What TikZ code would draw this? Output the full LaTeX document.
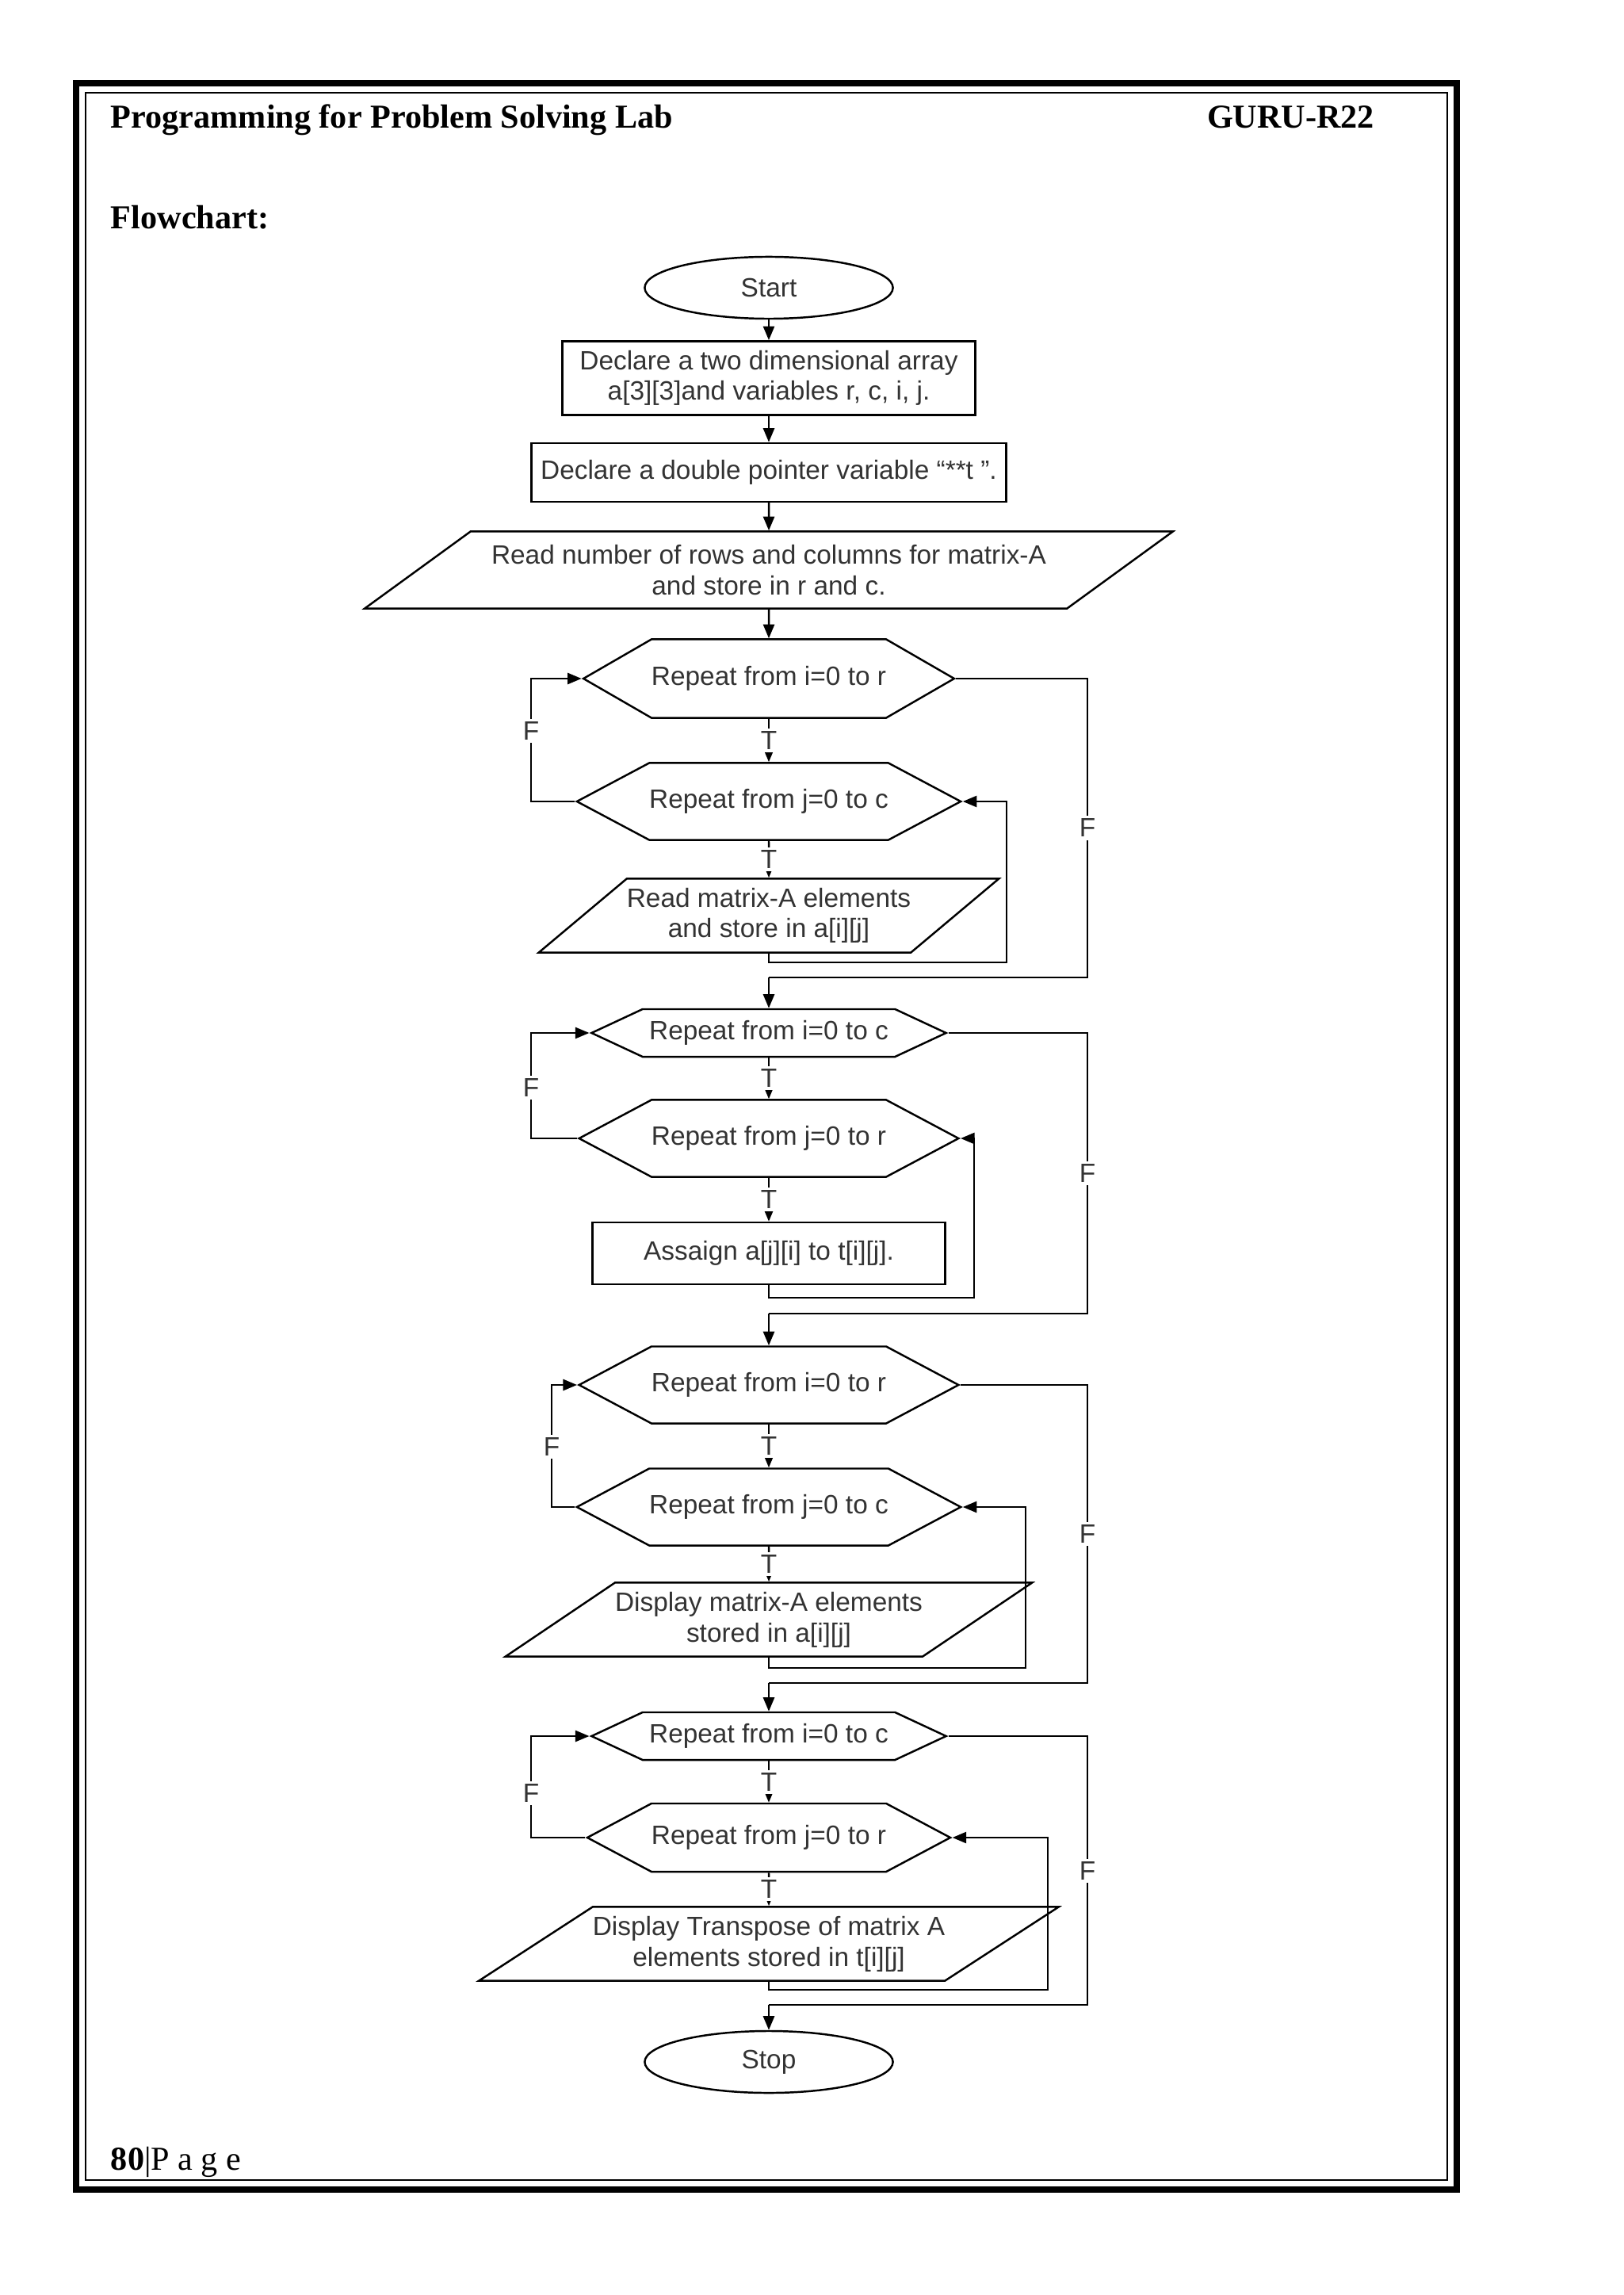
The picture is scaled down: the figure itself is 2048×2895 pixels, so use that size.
\documentclass[tikz,border=0pt]{standalone}
\usepackage{fontspec}
\setmainfont{Liberation Serif}
\newfontfamily\chartfont{Liberation Sans}
\usepackage{tikz}
\usetikzlibrary{shapes,arrows.meta,positioning}
\tikzset{
  term/.style={ellipse,draw,minimum width=3.13cm,minimum height=0.78cm},
  proc/.style={rectangle,draw,align=center,minimum height=0.74cm},
  io/.style={trapezium,draw,align=center,trapezium stretches body,inner xsep=0pt},
  rep/.style={signal,signal to=east and west,draw,signal pointer angle=60,inner xsep=0pt},
  lbl/.style={fill=white,inner sep=1pt,text=black!80},
}
\begin{document}
\begin{tikzpicture}[x=0.01cm,y=-0.01cm,>={Triangle[length=5pt,width=4pt]},line width=0.7pt,
  every node/.append style={font=\chartfont\fontsize{9.5}{11}\selectfont,text=black!80}]
        \useasboundingbox (0,0) rectangle (2048,2895);
        % page frame
        \draw[line width=2.2pt] (96,105) rectangle (1838,2762);
        \draw[line width=0.8pt] (108,117) rectangle (1826,2750);
        \node[anchor=base west,font=\bfseries\fontsize{12}{14}\selectfont,text=black] (hd) at (127,162) {Programming for Problem Solving Lab};
        \node[anchor=base east,font=\bfseries\fontsize{12}{14}\selectfont,text=black] (gr) at (1747,162) {GURU-R22};
        \node[anchor=base west,font=\bfseries\fontsize{12}{14}\selectfont,text=black] (fc) at (127,289) {Flowchart:};
        \node[anchor=base west,font=\fontsize{12}{14}\selectfont,text=black] (pg) at (127,2737) {\textbf{80}|P a g e};

        % main chain
        \node[term] (start) at (970,363) {Start};
        \node[proc,minimum width=5.21cm] (decl) at (970,477) {Declare a two dimensional array\\a[3][3]and variables r, c, i, j.};
        \node[proc,minimum width=5.98cm] (dptr) at (970,596) {Declare a double pointer variable “**t ”.};
        \node[io,trapezium left angle=33,trapezium right angle=147,minimum width=10.19cm,minimum height=0.97cm] (rd) at (970,719) {Read number of rows and columns for matrix-A\\and store in r and c.};

        % block 1
        \node[rep,minimum width=3.95cm,minimum height=0.99cm,signal pointer angle=60] (i1) at (970,856) {Repeat from i=0 to r};
        \node[rep,minimum width=4.21cm,minimum height=0.97cm,signal pointer angle=56] (j1) at (970,1011) {Repeat from j=0 to c};
        \node[io,trapezium left angle=40,trapezium right angle=140,minimum width=5.73cm,minimum height=0.75cm] (ra) at (970,1155) {Read matrix-A elements\\and store in a[i][j]};
        \coordinate (l1) at (1270,1214);
        \coordinate (f1) at (670,922);
        \coordinate (o1) at (1372,1233);
        \coordinate (m1) at (970,1233);

        % block 2
        \node[rep,minimum width=4.47cm,minimum height=0.60cm,signal pointer angle=50] (i2) at (970,1303) {Repeat from i=0 to c};
        \node[rep,minimum width=4.20cm,minimum height=0.97cm,signal pointer angle=56] (j2) at (970,1436) {Repeat from j=0 to r};
        \node[proc,minimum width=4.45cm,minimum height=0.78cm] (asg) at (970,1581) {Assaign a[j][i] to t[i][j].};
        \coordinate (l2) at (1229,1637);
        \coordinate (f2) at (670,1372);
        \coordinate (o2) at (1372,1657);
        \coordinate (m2) at (970,1657);

        % block 3
        \node[rep,minimum width=3.91cm,minimum height=0.97cm,signal pointer angle=56] (i3) at (970,1747) {Repeat from i=0 to r};
        \node[rep,minimum width=3.93cm,minimum height=0.97cm,signal pointer angle=56] (j3) at (970,1901) {Repeat from j=0 to c};
        \node[io,trapezium left angle=34,trapezium right angle=146,minimum width=6.11cm,minimum height=0.77cm] (da) at (970,2043) {Display matrix-A elements\\stored in a[i][j]};
        \coordinate (l3) at (1294,2104);
        \coordinate (f3) at (696,1825);
        \coordinate (o3) at (1372,2123);
        \coordinate (m3) at (970,2123);

        % block 4
        \node[rep,minimum width=4.47cm,minimum height=0.60cm,signal pointer angle=50] (i4) at (970,2190) {Repeat from i=0 to c};
        \node[rep,minimum width=3.93cm,minimum height=0.86cm,signal pointer angle=56] (j4) at (970,2318) {Repeat from j=0 to r};
        \node[io,trapezium left angle=33,trapezium right angle=147,minimum width=6.48cm,minimum height=0.75cm] (dt) at (970,2452) {Display Transpose of matrix A\\elements stored in t[i][j]};
        \coordinate (l4) at (1322,2510);
        \coordinate (f4) at (670,2262);
        \coordinate (o4) at (1372,2529);
        \coordinate (m4) at (970,2529);

        \node[term] (stop) at (970,2601) {Stop};

        \draw[->] (start) -- (decl);
        \draw[->] (decl) -- (dptr);
        \draw[->] (dptr) -- (rd);
        \draw[->] (rd) -- (i1.north);

        \draw[->] (i1.south) -- node[lbl]{T} (j1.north);
        \draw[->] (j1.south) -- node[lbl]{T} (ra.north);
        \draw[->] (ra.south) |- (l1) |- (j1.east);
        \draw[->] (j1.west) -| (f1) node[lbl]{F} |- (i1.west);
        \draw (i1.east) -| node[lbl,pos=0.75]{F} (o1) -- (m1);
        \draw[->] (m1) -- (i2.north);

        \draw[->] (i2.south) -- node[lbl]{T} (j2.north);
        \draw[->] (j2.south) -- node[lbl]{T} (asg.north);
        \draw[->] (asg.south) |- (l2) |- (j2.east);
        \draw[->] (j2.west) -| (f2) node[lbl]{F} |- (i2.west);
        \draw (i2.east) -| node[lbl,pos=0.75]{F} (o2) -- (m2);
        \draw[->] (m2) -- (i3.north);

        \draw[->] (i3.south) -- node[lbl]{T} (j3.north);
        \draw[->] (j3.south) -- node[lbl]{T} (da.north);
        \draw[->] (da.south) |- (l3) |- (j3.east);
        \draw[->] (j3.west) -| (f3) node[lbl]{F} |- (i3.west);
        \draw (i3.east) -| node[lbl,pos=0.75]{F} (o3) -- (m3);
        \draw[->] (m3) -- (i4.north);

        \draw[->] (i4.south) -- node[lbl]{T} (j4.north);
        \draw[->] (j4.south) -- node[lbl]{T} (dt.north);
        \draw[->] (dt.south) |- (l4) |- (j4.east);
        \draw[->] (j4.west) -| (f4) node[lbl]{F} |- (i4.west);
        \draw (i4.east) -| node[lbl,pos=0.75]{F} (o4) -- (m4);
        \draw[->] (m4) -- (stop);
\end{tikzpicture}
\end{document}
